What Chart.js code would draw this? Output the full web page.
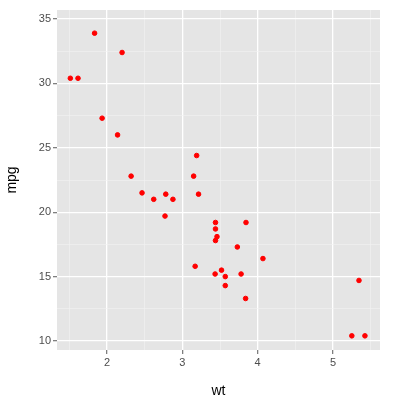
<!DOCTYPE html>
<html><head><script src="https://cdn.jsdelivr.net/npm/chart.js@4"></script>
<style>body{margin:0;background:#fff}#w{width:400px;height:400px}</style></head>
<body><div id="w"><canvas id="c"></canvas></div>
<script>
const wt=[2.620,2.875,2.320,3.215,3.440,3.460,3.570,3.190,3.150,3.440,3.440,4.070,3.730,3.780,5.250,5.424,5.345,2.200,1.615,1.835,2.465,3.520,3.435,3.840,3.845,1.935,2.140,1.513,3.170,2.770,3.570,2.780];
const mpg=[21.0,21.0,22.8,21.4,18.7,18.1,14.3,24.4,22.8,19.2,17.8,16.4,17.3,15.2,10.4,10.4,14.7,32.4,30.4,33.9,21.5,15.5,15.2,13.3,19.2,27.3,26.0,30.4,15.8,19.7,15.0,21.4];
const xTicks=[2,3,4,5], yTicks=[10,15,20,25,30,35];
const xAll=[1.5,2,2.5,3,3.5,4,4.5,5,5.5], yAll=[10,12.5,15,17.5,20,22.5,25,27.5,30,32.5,35];
const pts=wt.map((v,i)=>({x:v,y:mpg[i]}));
const bg={id:'bg',beforeDraw(c){const a=c.chartArea,x=c.ctx;x.save();x.fillStyle='#E5E5E5';x.fillRect(a.left,a.top,a.right-a.left,a.bottom-a.top);x.restore();}};
function grid(major){return {color:c=>major.includes(c.tick.value)?'#FFFFFF':'#F2F2F2',lineWidth:c=>major.includes(c.tick.value)?1.3:0.6,tickColor:c=>major.includes(c.tick.value)?'#7F7F7F':'rgba(0,0,0,0)',tickLength:4};}
function setT(arr){return s=>{s.ticks=arr.map(v=>({value:v}));};}
new Chart(document.getElementById('c'),{type:'scatter',
data:{datasets:[{data:pts,backgroundColor:'#FF0000',borderColor:'#FF0000',pointRadius:2.3,pointHoverRadius:2.3}]},
options:{responsive:true,maintainAspectRatio:false,animation:false,
layout:{padding:{left:0,right:20,top:10,bottom:0}},
plugins:{legend:{display:false},tooltip:{enabled:false}},
scales:{
x:{type:'linear',min:1.336,max:5.624,border:{display:false},afterBuildTicks:setT(xAll),afterFit:s=>{s.height=50;},
ticks:{autoSkip:false,maxRotation:0,color:'#4D4D4D',font:{family:'Liberation Sans',size:11},padding:2,callback:v=>xTicks.includes(v)?String(v):''},
grid:grid(xTicks),title:{display:true,text:'wt',color:'#000',font:{family:'Liberation Sans',size:14},padding:{top:0,bottom:0}}},
y:{type:'linear',min:9.3,max:35.7,border:{display:false},afterBuildTicks:setT(yAll),afterFit:s=>{s.width=57;},
ticks:{autoSkip:false,color:'#4D4D4D',font:{family:'Liberation Sans',size:11},padding:2,callback:v=>yTicks.includes(v)?String(v):''},
grid:grid(yTicks),title:{display:true,text:'mpg',color:'#000',font:{family:'Liberation Sans',size:14},padding:{bottom:2}}}}},
plugins:[bg]});
</script></body></html>
